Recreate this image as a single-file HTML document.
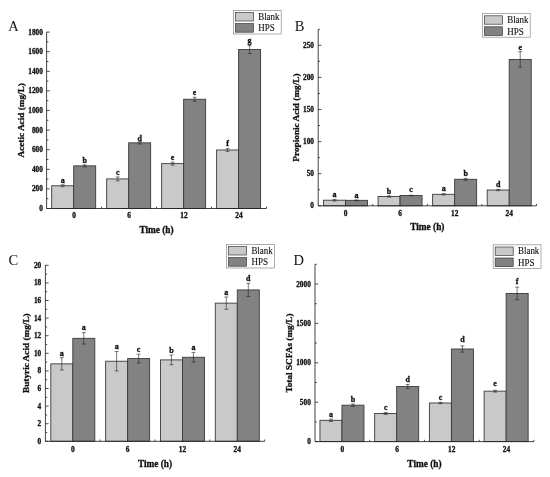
<!DOCTYPE html>
<html><head><meta charset="utf-8"><title>SCFA</title>
<style>html,body{margin:0;padding:0;background:#fff}svg{display:block}text{font-family:"Liberation Serif", serif;fill:#111}.b{stroke:#111;stroke-width:0.3}.l{stroke:#111;stroke-width:0.12}</style>
</head><body>
<svg width="550" height="477" viewBox="0 0 550 477">
<rect width="550" height="477" fill="#fff"/>
<rect x="51.69" y="185.76" width="22.00" height="22.74" fill="#c9c9c9" stroke="#3a3a3a" stroke-width="0.9"/>
<path d="M62.69 184.78V186.74M60.69 184.78H64.69M60.69 186.74H64.69" stroke="#222" stroke-width="0.6" fill="none"/>
<text x="62.69" y="182.58" font-size="8" font-weight="bold" text-anchor="middle" class="b">a</text>
<rect x="73.69" y="165.87" width="22.00" height="42.63" fill="#828282" stroke="#3a3a3a" stroke-width="0.9"/>
<path d="M84.69 164.89V166.85M82.69 164.89H86.69M82.69 166.85H86.69" stroke="#222" stroke-width="0.6" fill="none"/>
<text x="84.69" y="162.69" font-size="8" font-weight="bold" text-anchor="middle" class="b">b</text>
<rect x="106.66" y="178.90" width="22.00" height="29.60" fill="#c9c9c9" stroke="#3a3a3a" stroke-width="0.9"/>
<path d="M117.66 176.94V180.86M115.66 176.94H119.66M115.66 180.86H119.66" stroke="#222" stroke-width="0.6" fill="none"/>
<text x="117.66" y="174.74" font-size="8" font-weight="bold" text-anchor="middle" class="b">c</text>
<rect x="128.66" y="142.84" width="22.00" height="65.66" fill="#828282" stroke="#3a3a3a" stroke-width="0.9"/>
<path d="M139.66 141.66V144.02M137.66 141.66H141.66M137.66 144.02H141.66" stroke="#222" stroke-width="0.6" fill="none"/>
<text x="139.66" y="141.46" font-size="8" font-weight="bold" text-anchor="middle" class="b">d</text>
<rect x="161.64" y="163.62" width="22.00" height="44.88" fill="#c9c9c9" stroke="#3a3a3a" stroke-width="0.9"/>
<path d="M172.64 162.15V165.09M170.64 162.15H174.64M170.64 165.09H174.64" stroke="#222" stroke-width="0.6" fill="none"/>
<text x="172.64" y="159.95" font-size="8" font-weight="bold" text-anchor="middle" class="b">e</text>
<rect x="183.64" y="99.23" width="22.00" height="109.27" fill="#828282" stroke="#3a3a3a" stroke-width="0.9"/>
<path d="M194.64 97.27V101.19M192.64 97.27H196.64M192.64 101.19H196.64" stroke="#222" stroke-width="0.6" fill="none"/>
<text x="194.64" y="95.07" font-size="8" font-weight="bold" text-anchor="middle" class="b">e</text>
<rect x="216.61" y="149.99" width="22.00" height="58.51" fill="#c9c9c9" stroke="#3a3a3a" stroke-width="0.9"/>
<path d="M227.61 148.62V151.37M225.61 148.62H229.61M225.61 151.37H229.61" stroke="#222" stroke-width="0.6" fill="none"/>
<text x="227.61" y="146.42" font-size="8" font-weight="bold" text-anchor="middle" class="b">f</text>
<rect x="238.61" y="49.54" width="22.00" height="158.96" fill="#828282" stroke="#3a3a3a" stroke-width="0.9"/>
<path d="M249.61 45.62V53.46M247.61 45.62H251.61M247.61 53.46H251.61" stroke="#222" stroke-width="0.6" fill="none"/>
<text x="249.61" y="43.42" font-size="8" font-weight="bold" text-anchor="middle" class="b">g</text>
<path d="M46.60 32.10V208.50H266.50" stroke="#222" stroke-width="0.85" fill="none"/>
<text x="42.90" y="211.00" font-size="7.3" font-weight="bold" text-anchor="end" class="b">0</text>
<text x="42.90" y="191.40" font-size="7.3" font-weight="bold" text-anchor="end" class="b">200</text>
<text x="42.90" y="171.80" font-size="7.3" font-weight="bold" text-anchor="end" class="b">400</text>
<text x="42.90" y="152.20" font-size="7.3" font-weight="bold" text-anchor="end" class="b">600</text>
<text x="42.90" y="132.60" font-size="7.3" font-weight="bold" text-anchor="end" class="b">800</text>
<text x="42.90" y="113.00" font-size="7.3" font-weight="bold" text-anchor="end" class="b">1000</text>
<text x="42.90" y="93.40" font-size="7.3" font-weight="bold" text-anchor="end" class="b">1200</text>
<text x="42.90" y="73.80" font-size="7.3" font-weight="bold" text-anchor="end" class="b">1400</text>
<text x="42.90" y="54.20" font-size="7.3" font-weight="bold" text-anchor="end" class="b">1600</text>
<text x="42.90" y="34.60" font-size="7.3" font-weight="bold" text-anchor="end" class="b">1800</text>
<path d="M46.60 208.50h3.2M46.60 188.90h3.2M46.60 169.30h3.2M46.60 149.70h3.2M46.60 130.10h3.2M46.60 110.50h3.2M46.60 90.90h3.2M46.60 71.30h3.2M46.60 51.70h3.2M46.60 32.10h3.2M46.60 198.70h1.8M46.60 179.10h1.8M46.60 159.50h1.8M46.60 139.90h1.8M46.60 120.30h1.8M46.60 100.70h1.8M46.60 81.10h1.8M46.60 61.50h1.8M46.60 41.90h1.8M101.58 208.50v-1.8M156.55 208.50v-1.8M211.53 208.50v-1.8M266.50 208.50v-1.8" stroke="#222" stroke-width="0.8" fill="none"/>
<text x="74.09" y="218.20" font-size="7.4" font-weight="bold" class="b" text-anchor="middle">0</text>
<text x="129.06" y="218.20" font-size="7.4" font-weight="bold" class="b" text-anchor="middle">6</text>
<text x="184.04" y="218.20" font-size="7.4" font-weight="bold" class="b" text-anchor="middle">12</text>
<text x="239.01" y="218.20" font-size="7.4" font-weight="bold" class="b" text-anchor="middle">24</text>
<text x="156.55" y="233.00" font-size="9.3" font-weight="bold" text-anchor="middle" class="b">Time (h)</text>
<text transform="translate(24.20 120.30) rotate(-90)" font-size="9.25" font-weight="bold" text-anchor="middle" class="b">Acetic Acid (mg/L)</text>
<text x="8.20" y="31.00" font-size="14.5">A</text>
<rect x="233.40" y="10.40" width="47.8" height="23.6" fill="#fff" stroke="#8a8a8a" stroke-width="0.7"/>
<rect x="235.40" y="12.60" width="18" height="8.4" fill="#c9c9c9" stroke="#3a3a3a" stroke-width="0.7"/>
<rect x="235.40" y="23.60" width="18" height="8.6" fill="#828282" stroke="#3a3a3a" stroke-width="0.7"/>
<text x="258.20" y="20.00" font-size="9.6" textLength="21.3" class="l" lengthAdjust="spacingAndGlyphs">Blank</text>
<text x="258.20" y="31.40" font-size="9.6" textLength="16.5" class="l" lengthAdjust="spacingAndGlyphs">HPS</text>
<rect x="323.49" y="200.21" width="22.00" height="5.59" fill="#c9c9c9" stroke="#3a3a3a" stroke-width="0.9"/>
<path d="M334.49 199.38V201.05M332.49 199.38H336.49M332.49 201.05H336.49" stroke="#222" stroke-width="0.6" fill="none"/>
<text x="334.49" y="196.88" font-size="8" font-weight="bold" text-anchor="middle" class="b">a</text>
<rect x="345.49" y="200.34" width="22.00" height="5.46" fill="#828282" stroke="#3a3a3a" stroke-width="0.9"/>
<path d="M356.49 200.02V200.66M354.49 200.02H358.49M354.49 200.66H358.49" stroke="#222" stroke-width="0.6" fill="none"/>
<text x="356.49" y="198.12" font-size="8" font-weight="bold" text-anchor="middle" class="b">a</text>
<rect x="378.06" y="196.49" width="22.00" height="9.31" fill="#c9c9c9" stroke="#3a3a3a" stroke-width="0.9"/>
<path d="M389.06 195.85V197.13M387.06 195.85H391.06M387.06 197.13H391.06" stroke="#222" stroke-width="0.6" fill="none"/>
<text x="389.06" y="193.65" font-size="8" font-weight="bold" text-anchor="middle" class="b">b</text>
<rect x="400.06" y="195.53" width="22.00" height="10.27" fill="#828282" stroke="#3a3a3a" stroke-width="0.9"/>
<path d="M411.06 195.27V195.78M409.06 195.27H413.06M409.06 195.78H413.06" stroke="#222" stroke-width="0.6" fill="none"/>
<text x="411.06" y="191.87" font-size="8" font-weight="bold" text-anchor="middle" class="b">c</text>
<rect x="432.64" y="194.31" width="22.00" height="11.49" fill="#c9c9c9" stroke="#3a3a3a" stroke-width="0.9"/>
<path d="M443.64 193.67V194.95M441.64 193.67H445.64M441.64 194.95H445.64" stroke="#222" stroke-width="0.6" fill="none"/>
<text x="443.64" y="191.47" font-size="8" font-weight="bold" text-anchor="middle" class="b">a</text>
<rect x="454.64" y="179.29" width="22.00" height="26.51" fill="#828282" stroke="#3a3a3a" stroke-width="0.9"/>
<path d="M465.64 178.32V180.25M463.64 178.32H467.64M463.64 180.25H467.64" stroke="#222" stroke-width="0.6" fill="none"/>
<text x="465.64" y="176.12" font-size="8" font-weight="bold" text-anchor="middle" class="b">b</text>
<rect x="487.21" y="190.01" width="22.00" height="15.79" fill="#c9c9c9" stroke="#3a3a3a" stroke-width="0.9"/>
<path d="M498.21 189.36V190.65M496.21 189.36H500.21M496.21 190.65H500.21" stroke="#222" stroke-width="0.6" fill="none"/>
<text x="498.21" y="187.16" font-size="8" font-weight="bold" text-anchor="middle" class="b">d</text>
<rect x="509.21" y="59.42" width="22.00" height="146.38" fill="#828282" stroke="#3a3a3a" stroke-width="0.9"/>
<path d="M520.21 51.72V67.13M518.21 51.72H522.21M518.21 67.13H522.21" stroke="#222" stroke-width="0.6" fill="none"/>
<text x="520.21" y="50.12" font-size="8" font-weight="bold" text-anchor="middle" class="b">e</text>
<path d="M318.20 29.30V205.80H536.50" stroke="#222" stroke-width="0.85" fill="none"/>
<text x="314.00" y="208.30" font-size="7.3" font-weight="bold" text-anchor="end" class="b">0</text>
<text x="314.00" y="176.20" font-size="7.3" font-weight="bold" text-anchor="end" class="b">50</text>
<text x="314.00" y="144.10" font-size="7.3" font-weight="bold" text-anchor="end" class="b">100</text>
<text x="314.00" y="112.00" font-size="7.3" font-weight="bold" text-anchor="end" class="b">150</text>
<text x="314.00" y="79.90" font-size="7.3" font-weight="bold" text-anchor="end" class="b">200</text>
<text x="314.00" y="47.80" font-size="7.3" font-weight="bold" text-anchor="end" class="b">250</text>
<path d="M318.20 205.80h3.2M318.20 173.70h3.2M318.20 141.60h3.2M318.20 109.50h3.2M318.20 77.40h3.2M318.20 45.30h3.2M318.20 189.75h1.8M318.20 157.65h1.8M318.20 125.55h1.8M318.20 93.45h1.8M318.20 61.35h1.8M318.20 29.25h1.8M372.77 205.80v-1.8M427.35 205.80v-1.8M481.93 205.80v-1.8M536.50 205.80v-1.8" stroke="#222" stroke-width="0.8" fill="none"/>
<text x="345.49" y="215.50" font-size="7.4" font-weight="bold" class="b" text-anchor="middle">0</text>
<text x="400.06" y="215.50" font-size="7.4" font-weight="bold" class="b" text-anchor="middle">6</text>
<text x="454.64" y="215.50" font-size="7.4" font-weight="bold" class="b" text-anchor="middle">12</text>
<text x="509.21" y="215.50" font-size="7.4" font-weight="bold" class="b" text-anchor="middle">24</text>
<text x="427.35" y="230.30" font-size="9.3" font-weight="bold" text-anchor="middle" class="b">Time (h)</text>
<text transform="translate(299.00 117.55) rotate(-90)" font-size="9.25" font-weight="bold" text-anchor="middle" class="b">Propionic Acid (mg/L)</text>
<text x="294.80" y="31.20" font-size="14.5">B</text>
<rect x="482.40" y="13.60" width="47.8" height="23.6" fill="#fff" stroke="#8a8a8a" stroke-width="0.7"/>
<rect x="484.40" y="15.80" width="18" height="8.4" fill="#c9c9c9" stroke="#3a3a3a" stroke-width="0.7"/>
<rect x="484.40" y="26.80" width="18" height="8.6" fill="#828282" stroke="#3a3a3a" stroke-width="0.7"/>
<text x="507.20" y="23.20" font-size="9.6" textLength="21.3" class="l" lengthAdjust="spacingAndGlyphs">Blank</text>
<text x="507.20" y="34.60" font-size="9.6" textLength="16.5" class="l" lengthAdjust="spacingAndGlyphs">HPS</text>
<rect x="50.81" y="363.86" width="22.00" height="77.44" fill="#c9c9c9" stroke="#3a3a3a" stroke-width="0.9"/>
<path d="M61.81 357.70V370.02M59.81 357.70H63.81M59.81 370.02H63.81" stroke="#222" stroke-width="0.6" fill="none"/>
<text x="61.81" y="355.50" font-size="8" font-weight="bold" text-anchor="middle" class="b">a</text>
<rect x="72.81" y="338.34" width="22.00" height="102.96" fill="#828282" stroke="#3a3a3a" stroke-width="0.9"/>
<path d="M83.81 332.62V344.06M81.81 332.62H85.81M81.81 344.06H85.81" stroke="#222" stroke-width="0.6" fill="none"/>
<text x="83.81" y="330.42" font-size="8" font-weight="bold" text-anchor="middle" class="b">a</text>
<rect x="105.64" y="361.22" width="22.00" height="80.08" fill="#c9c9c9" stroke="#3a3a3a" stroke-width="0.9"/>
<path d="M116.64 351.54V370.90M114.64 351.54H118.64M114.64 370.90H118.64" stroke="#222" stroke-width="0.6" fill="none"/>
<text x="116.64" y="349.34" font-size="8" font-weight="bold" text-anchor="middle" class="b">a</text>
<rect x="127.64" y="358.58" width="22.00" height="82.72" fill="#828282" stroke="#3a3a3a" stroke-width="0.9"/>
<path d="M138.64 354.18V362.98M136.64 354.18H140.64M136.64 362.98H140.64" stroke="#222" stroke-width="0.6" fill="none"/>
<text x="138.64" y="351.98" font-size="8" font-weight="bold" text-anchor="middle" class="b">c</text>
<rect x="160.46" y="359.90" width="22.00" height="81.40" fill="#c9c9c9" stroke="#3a3a3a" stroke-width="0.9"/>
<path d="M171.46 355.06V364.74M169.46 355.06H173.46M169.46 364.74H173.46" stroke="#222" stroke-width="0.6" fill="none"/>
<text x="171.46" y="352.86" font-size="8" font-weight="bold" text-anchor="middle" class="b">b</text>
<rect x="182.46" y="357.26" width="22.00" height="84.04" fill="#828282" stroke="#3a3a3a" stroke-width="0.9"/>
<path d="M193.46 352.42V362.10M191.46 352.42H195.46M191.46 362.10H195.46" stroke="#222" stroke-width="0.6" fill="none"/>
<text x="193.46" y="350.22" font-size="8" font-weight="bold" text-anchor="middle" class="b">a</text>
<rect x="215.29" y="303.14" width="22.00" height="138.16" fill="#c9c9c9" stroke="#3a3a3a" stroke-width="0.9"/>
<path d="M226.29 296.98V309.30M224.29 296.98H228.29M224.29 309.30H228.29" stroke="#222" stroke-width="0.6" fill="none"/>
<text x="226.29" y="294.78" font-size="8" font-weight="bold" text-anchor="middle" class="b">a</text>
<rect x="237.29" y="289.94" width="22.00" height="151.36" fill="#828282" stroke="#3a3a3a" stroke-width="0.9"/>
<path d="M248.29 283.34V296.54M246.29 283.34H250.29M246.29 296.54H250.29" stroke="#222" stroke-width="0.6" fill="none"/>
<text x="248.29" y="281.14" font-size="8" font-weight="bold" text-anchor="middle" class="b">d</text>
<path d="M45.40 265.00V441.30H264.70" stroke="#222" stroke-width="0.85" fill="none"/>
<text x="41.20" y="443.80" font-size="7.3" font-weight="bold" text-anchor="end" class="b">0</text>
<text x="41.20" y="426.20" font-size="7.3" font-weight="bold" text-anchor="end" class="b">2</text>
<text x="41.20" y="408.60" font-size="7.3" font-weight="bold" text-anchor="end" class="b">4</text>
<text x="41.20" y="391.00" font-size="7.3" font-weight="bold" text-anchor="end" class="b">6</text>
<text x="41.20" y="373.40" font-size="7.3" font-weight="bold" text-anchor="end" class="b">8</text>
<text x="41.20" y="355.80" font-size="7.3" font-weight="bold" text-anchor="end" class="b">10</text>
<text x="41.20" y="338.20" font-size="7.3" font-weight="bold" text-anchor="end" class="b">12</text>
<text x="41.20" y="320.60" font-size="7.3" font-weight="bold" text-anchor="end" class="b">14</text>
<text x="41.20" y="303.00" font-size="7.3" font-weight="bold" text-anchor="end" class="b">16</text>
<text x="41.20" y="285.40" font-size="7.3" font-weight="bold" text-anchor="end" class="b">18</text>
<text x="41.20" y="267.80" font-size="7.3" font-weight="bold" text-anchor="end" class="b">20</text>
<path d="M45.40 441.30h3.2M45.40 423.70h3.2M45.40 406.10h3.2M45.40 388.50h3.2M45.40 370.90h3.2M45.40 353.30h3.2M45.40 335.70h3.2M45.40 318.10h3.2M45.40 300.50h3.2M45.40 282.90h3.2M45.40 265.30h3.2M45.40 432.50h1.8M45.40 414.90h1.8M45.40 397.30h1.8M45.40 379.70h1.8M45.40 362.10h1.8M45.40 344.50h1.8M45.40 326.90h1.8M45.40 309.30h1.8M45.40 291.70h1.8M45.40 274.10h1.8M100.22 441.30v-1.8M155.05 441.30v-1.8M209.88 441.30v-1.8M264.70 441.30v-1.8" stroke="#222" stroke-width="0.8" fill="none"/>
<text x="72.81" y="451.70" font-size="7.4" font-weight="bold" class="b" text-anchor="middle">0</text>
<text x="127.64" y="451.70" font-size="7.4" font-weight="bold" class="b" text-anchor="middle">6</text>
<text x="182.46" y="451.70" font-size="7.4" font-weight="bold" class="b" text-anchor="middle">12</text>
<text x="237.29" y="451.70" font-size="7.4" font-weight="bold" class="b" text-anchor="middle">24</text>
<text x="155.05" y="466.50" font-size="9.3" font-weight="bold" text-anchor="middle" class="b">Time (h)</text>
<text transform="translate(29.40 353.15) rotate(-90)" font-size="9.25" font-weight="bold" text-anchor="middle" class="b">Butyric Acid (mg/L)</text>
<text x="8.40" y="264.60" font-size="14.5">C</text>
<rect x="226.60" y="244.40" width="47.8" height="23.6" fill="#fff" stroke="#8a8a8a" stroke-width="0.7"/>
<rect x="228.60" y="246.60" width="18" height="8.4" fill="#c9c9c9" stroke="#3a3a3a" stroke-width="0.7"/>
<rect x="228.60" y="257.60" width="18" height="8.6" fill="#828282" stroke="#3a3a3a" stroke-width="0.7"/>
<text x="251.40" y="254.00" font-size="9.6" textLength="21.3" class="l" lengthAdjust="spacingAndGlyphs">Blank</text>
<text x="251.40" y="265.40" font-size="9.6" textLength="16.5" class="l" lengthAdjust="spacingAndGlyphs">HPS</text>
<rect x="319.96" y="420.32" width="22.00" height="21.28" fill="#c9c9c9" stroke="#3a3a3a" stroke-width="0.9"/>
<path d="M330.96 419.14V421.51M328.96 419.14H332.96M328.96 421.51H332.96" stroke="#222" stroke-width="0.6" fill="none"/>
<text x="330.96" y="416.94" font-size="8" font-weight="bold" text-anchor="middle" class="b">a</text>
<rect x="341.96" y="405.19" width="22.00" height="36.41" fill="#828282" stroke="#3a3a3a" stroke-width="0.9"/>
<path d="M352.96 404.01V406.38M350.96 404.01H354.96M350.96 406.38H354.96" stroke="#222" stroke-width="0.6" fill="none"/>
<text x="352.96" y="401.81" font-size="8" font-weight="bold" text-anchor="middle" class="b">b</text>
<rect x="374.69" y="413.47" width="22.00" height="28.13" fill="#c9c9c9" stroke="#3a3a3a" stroke-width="0.9"/>
<path d="M385.69 412.52V414.41M383.69 412.52H387.69M383.69 414.41H387.69" stroke="#222" stroke-width="0.6" fill="none"/>
<text x="385.69" y="410.32" font-size="8" font-weight="bold" text-anchor="middle" class="b">c</text>
<rect x="396.69" y="386.44" width="22.00" height="55.16" fill="#828282" stroke="#3a3a3a" stroke-width="0.9"/>
<path d="M407.69 384.47V388.41M405.69 384.47H409.69M405.69 388.41H409.69" stroke="#222" stroke-width="0.6" fill="none"/>
<text x="407.69" y="382.27" font-size="8" font-weight="bold" text-anchor="middle" class="b">d</text>
<rect x="429.41" y="402.99" width="22.00" height="38.61" fill="#c9c9c9" stroke="#3a3a3a" stroke-width="0.9"/>
<path d="M440.41 402.36V403.62M438.41 402.36H442.41M438.41 403.62H442.41" stroke="#222" stroke-width="0.6" fill="none"/>
<text x="440.41" y="400.16" font-size="8" font-weight="bold" text-anchor="middle" class="b">c</text>
<rect x="451.41" y="349.01" width="22.00" height="92.59" fill="#828282" stroke="#3a3a3a" stroke-width="0.9"/>
<path d="M462.41 345.86V352.16M460.41 345.86H464.41M460.41 352.16H464.41" stroke="#222" stroke-width="0.6" fill="none"/>
<text x="462.41" y="342.46" font-size="8" font-weight="bold" text-anchor="middle" class="b">d</text>
<rect x="484.14" y="391.17" width="22.00" height="50.43" fill="#c9c9c9" stroke="#3a3a3a" stroke-width="0.9"/>
<path d="M495.14 390.22V392.11M493.14 390.22H497.14M493.14 392.11H497.14" stroke="#222" stroke-width="0.6" fill="none"/>
<text x="495.14" y="386.42" font-size="8" font-weight="bold" text-anchor="middle" class="b">e</text>
<rect x="506.14" y="293.46" width="22.00" height="148.14" fill="#828282" stroke="#3a3a3a" stroke-width="0.9"/>
<path d="M517.14 287.15V299.76M515.14 287.15H519.14M515.14 299.76H519.14" stroke="#222" stroke-width="0.6" fill="none"/>
<text x="517.14" y="284.25" font-size="8" font-weight="bold" text-anchor="middle" class="b">f</text>
<path d="M315.00 264.40V441.60H533.90" stroke="#222" stroke-width="0.85" fill="none"/>
<text x="310.80" y="444.10" font-size="7.3" font-weight="bold" text-anchor="end" class="b">0</text>
<text x="310.80" y="404.70" font-size="7.3" font-weight="bold" text-anchor="end" class="b">500</text>
<text x="310.80" y="365.30" font-size="7.3" font-weight="bold" text-anchor="end" class="b">1000</text>
<text x="310.80" y="325.90" font-size="7.3" font-weight="bold" text-anchor="end" class="b">1500</text>
<text x="310.80" y="286.50" font-size="7.3" font-weight="bold" text-anchor="end" class="b">2000</text>
<path d="M315.00 441.60h3.2M315.00 402.20h3.2M315.00 362.80h3.2M315.00 323.40h3.2M315.00 284.00h3.2M315.00 421.90h1.8M315.00 382.50h1.8M315.00 343.10h1.8M315.00 303.70h1.8M315.00 264.30h1.8M369.73 441.60v-1.8M424.45 441.60v-1.8M479.17 441.60v-1.8M533.90 441.60v-1.8" stroke="#222" stroke-width="0.8" fill="none"/>
<text x="342.36" y="451.70" font-size="7.4" font-weight="bold" class="b" text-anchor="middle">0</text>
<text x="397.09" y="451.70" font-size="7.4" font-weight="bold" class="b" text-anchor="middle">6</text>
<text x="451.81" y="451.70" font-size="7.4" font-weight="bold" class="b" text-anchor="middle">12</text>
<text x="506.54" y="451.70" font-size="7.4" font-weight="bold" class="b" text-anchor="middle">24</text>
<text x="424.45" y="466.50" font-size="9.3" font-weight="bold" text-anchor="middle" class="b">Time (h)</text>
<text transform="translate(292.00 353.00) rotate(-90)" font-size="9.25" font-weight="bold" text-anchor="middle" class="b">Total SCFAs (mg/L)</text>
<text x="293.60" y="264.60" font-size="14.5">D</text>
<rect x="493.20" y="244.80" width="47.8" height="23.6" fill="#fff" stroke="#8a8a8a" stroke-width="0.7"/>
<rect x="495.20" y="247.00" width="18" height="8.4" fill="#c9c9c9" stroke="#3a3a3a" stroke-width="0.7"/>
<rect x="495.20" y="258.00" width="18" height="8.6" fill="#828282" stroke="#3a3a3a" stroke-width="0.7"/>
<text x="518.00" y="254.40" font-size="9.6" textLength="21.3" class="l" lengthAdjust="spacingAndGlyphs">Blank</text>
<text x="518.00" y="265.80" font-size="9.6" textLength="16.5" class="l" lengthAdjust="spacingAndGlyphs">HPS</text>
</svg>
</body></html>
